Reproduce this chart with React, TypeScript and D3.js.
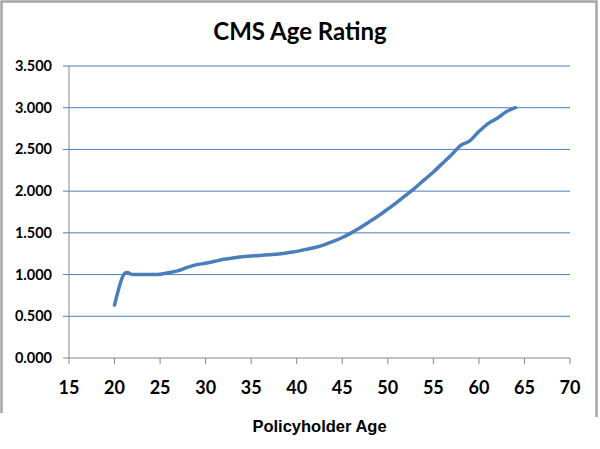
import React from "react";
import * as d3 from "d3";

const ages = [20,21,22,23,24,25,26,27,28,29,30,31,32,33,34,35,36,37,38,39,40,41,42,43,44,45,46,47,48,49,50,51,52,53,54,55,56,57,58,59,60,61,62,63,64];
const ratings = [0.635,1.0,1.0,1.0,1.0,1.004,1.024,1.048,1.087,1.119,1.135,1.159,1.183,1.198,1.214,1.222,1.23,1.238,1.246,1.262,1.278,1.302,1.325,1.357,1.397,1.444,1.5,1.563,1.635,1.706,1.786,1.865,1.952,2.04,2.135,2.23,2.333,2.437,2.548,2.603,2.714,2.81,2.873,2.952,3.0];
const xTicks = [15,20,25,30,35,40,45,50,55,60,65,70];
const yTicks = [0,0.5,1,1.5,2,2.5,3,3.5];
const title = "CMS Age Rating";
const xTitle = "Policyholder Age";

export default function App() {
  const W = 600, H = 449;
  const left = 69, right = 570, top = 66, bottom = 358;
  const x = d3.scaleLinear().domain([15, 70]).range([left, right]);
  const y = d3.scaleLinear().domain([0, 3.5]).range([bottom, top]);
  const fmt = d3.format(".3f");
  const pts = ages.map((a, i) => [a, ratings[i]] as [number, number]);
  const line = d3.line<[number, number]>().x(d => x(d[0])).y(d => y(d[1])).curve(d3.curveCatmullRom.alpha(0));
  const font = "Lato, 'Open Sans', sans-serif";
  return (
    <svg width={W} height={H} style={{ position: "absolute", left: 0, top: 0, background: "#fff" }} fontFamily={font}>
      <path d={`M1.5,413 V1.5 H596.5 V417`} fill="none" stroke="#a6a6a6" strokeWidth={2.5} />
      <text x={300} y={40} textAnchor="middle" fontSize={24} fontWeight="bold" fill="#000">{title}</text>
      {yTicks.filter(t => t > 0).map(t => (
        <line key={"g" + t} x1={left - 6} x2={right} y1={y(t)} y2={y(t)} stroke="#4a7ebb" strokeWidth={1} />
      ))}
      <line x1={left} x2={left} y1={top} y2={bottom} stroke="#868686" strokeWidth={1} />
      <line x1={left - 6} x2={right} y1={bottom} y2={bottom} stroke="#868686" strokeWidth={1} />
      {xTicks.map(t => (
        <line key={"xt" + t} x1={x(t)} x2={x(t)} y1={bottom} y2={bottom + 6} stroke="#868686" strokeWidth={1} />
      ))}
      {yTicks.map(t => (
        <text key={"yl" + t} x={52} y={y(t) + 5} textAnchor="end" fontSize={14.5} fontWeight="bold" fill="#000">{fmt(t)}</text>
      ))}
      {xTicks.map(t => (
        <text key={"xl" + t} x={x(t)} y={394} textAnchor="middle" fontSize={18} fontWeight="bold" fill="#000">{t}</text>
      ))}
      <text x={(left + right) / 2} y={432} textAnchor="middle" fontSize={16.5} fontWeight="bold" fontFamily="'Liberation Sans', Arial, sans-serif" fill="#000">{xTitle}</text>
      <path d={line(pts) || ""} fill="none" stroke="#4a7ebb" strokeWidth={3.5} strokeLinecap="round" strokeLinejoin="round" />
    </svg>
  );
}
